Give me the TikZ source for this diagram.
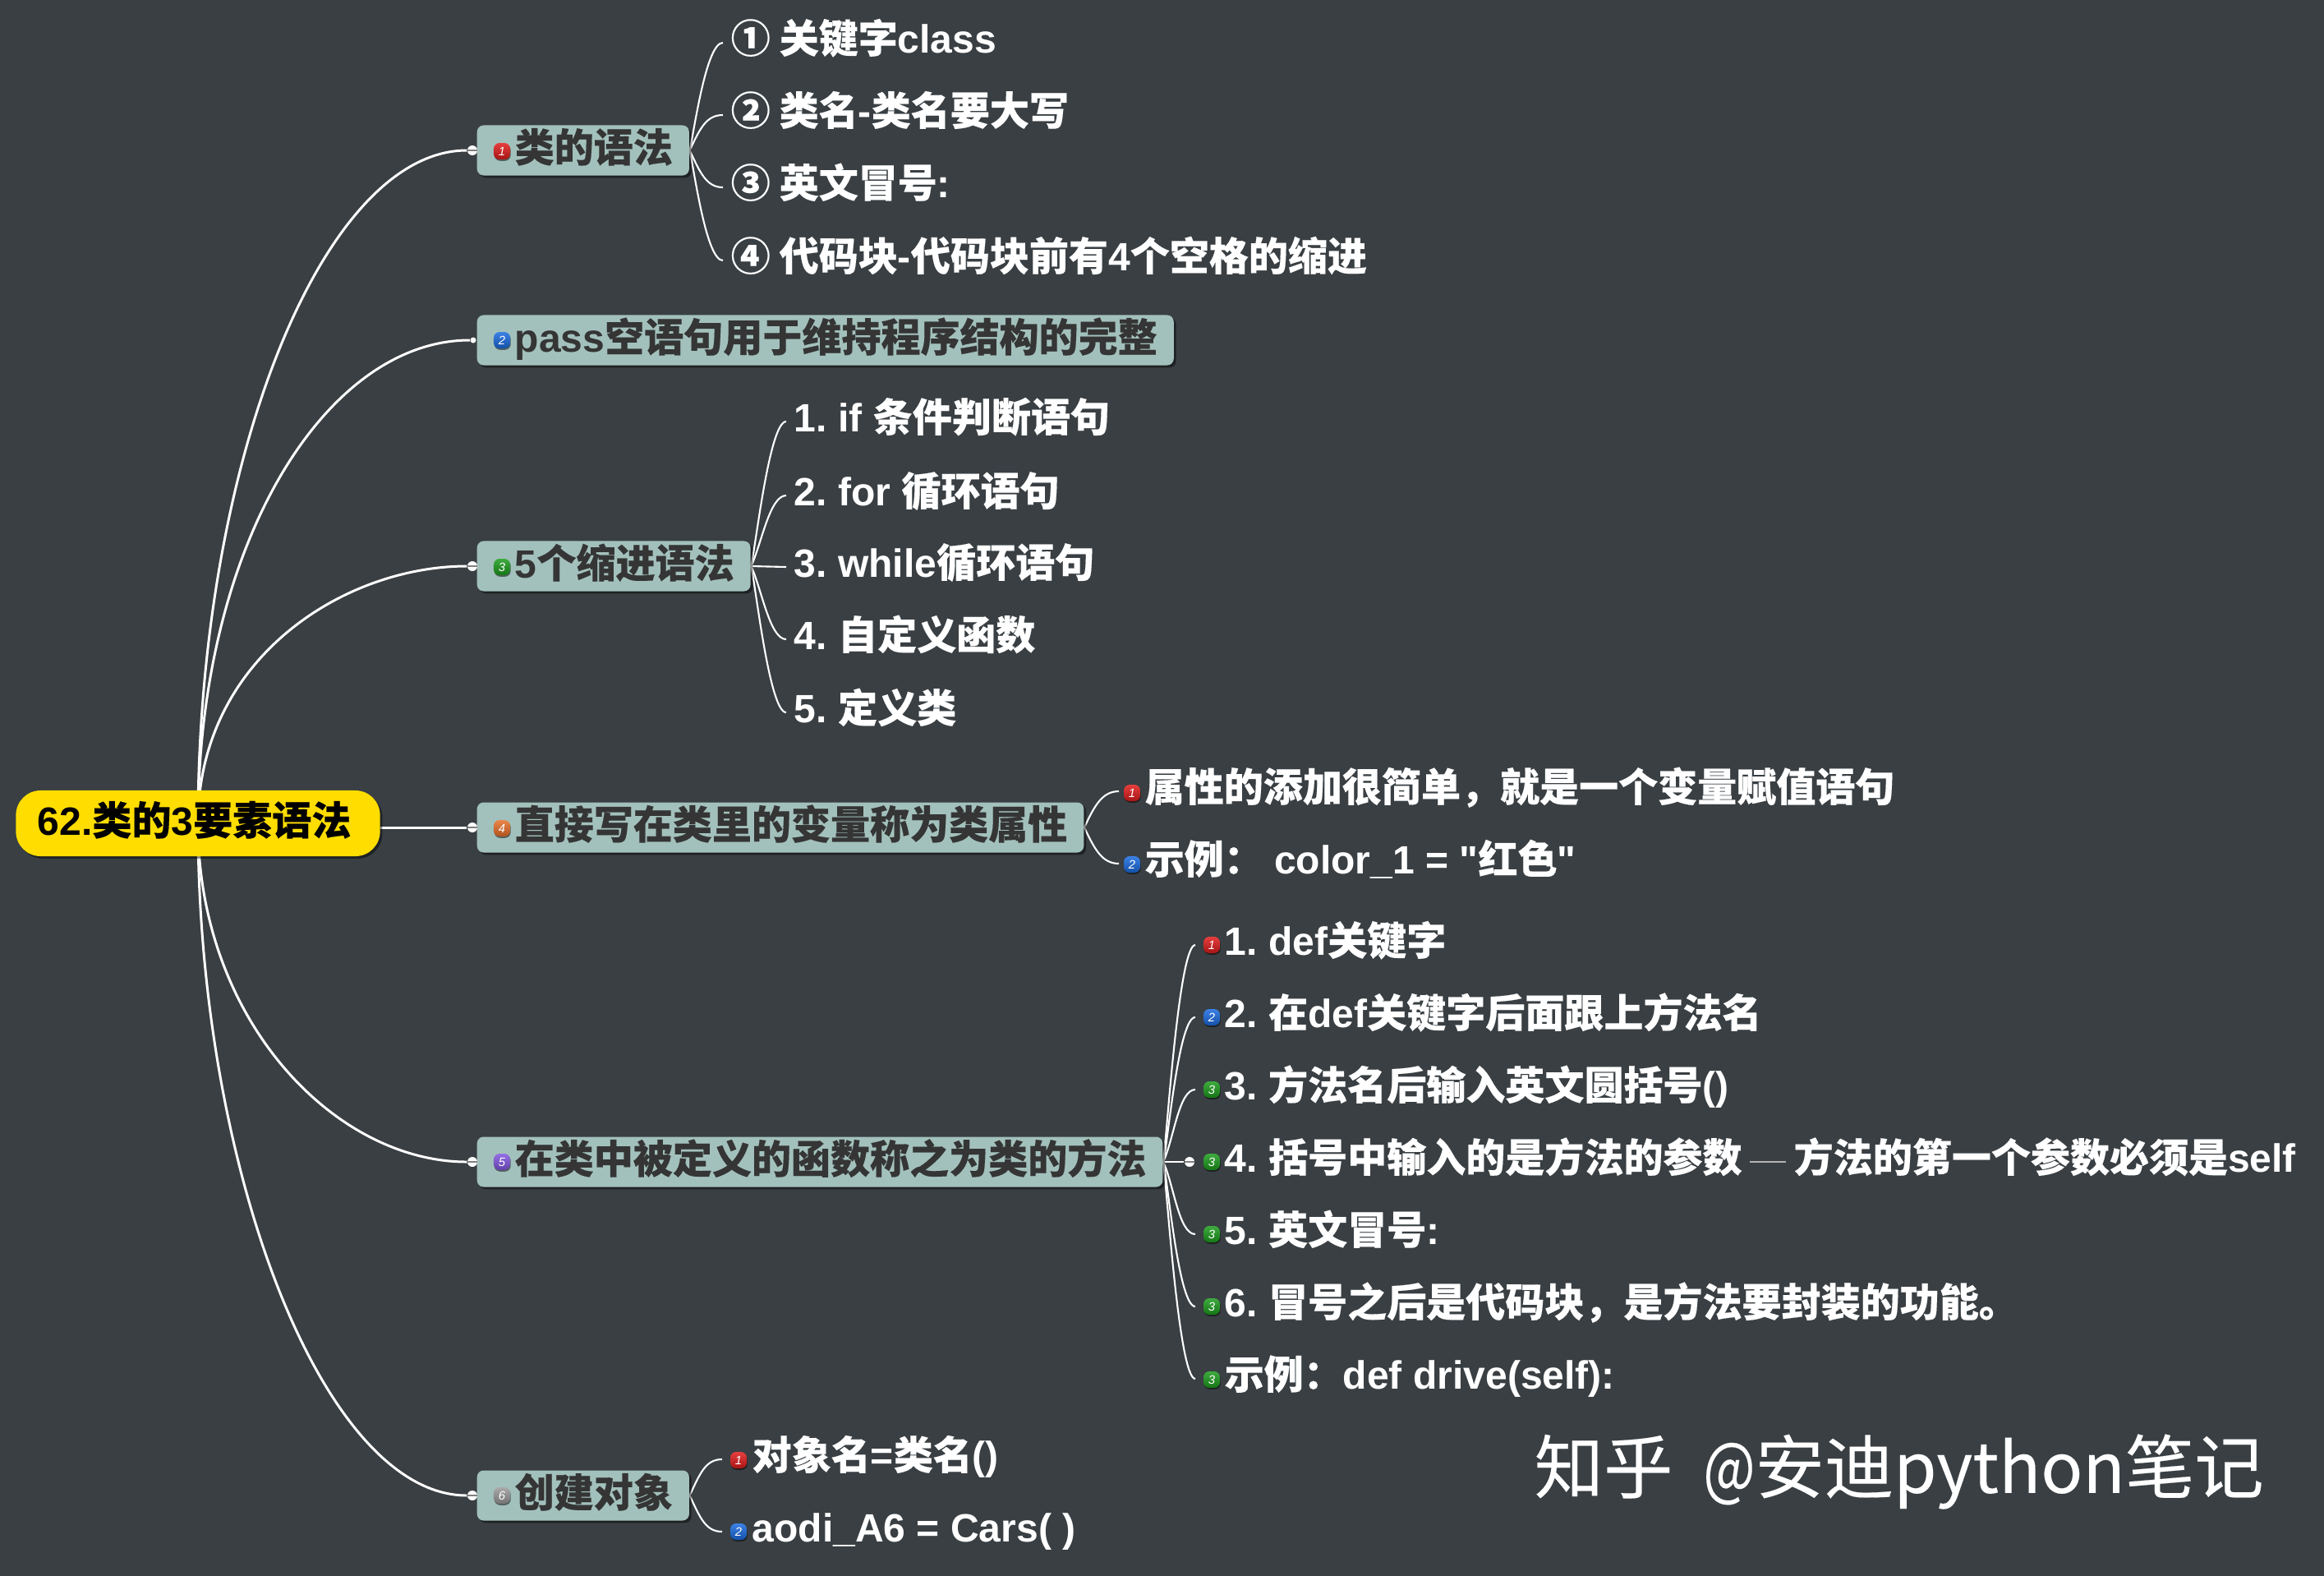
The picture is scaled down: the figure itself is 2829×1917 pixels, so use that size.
\documentclass[tikz,border=0pt]{standalone}
\usepackage{fontspec}
\newfontfamily\mapmain{Liberation Sans}
\newfontfamily\cjk[BoldFeatures={FakeBold=.25}]{Noto Sans CJK SC}
\newfontfamily\markfont[FakeBold=.2]{Noto Sans CJK SC}
\newcommand{\zh}[1]{{\cjk #1}}
\usetikzlibrary{backgrounds,shadows}
\frenchspacing

\definecolor{slate}{HTML}{393F43}
\definecolor{sage}{HTML}{A3C1BC}
\definecolor{inkdark}{HTML}{353535}
\definecolor{sun}{HTML}{FFDD00}
\definecolor{bred}{HTML}{E01C1C}
\definecolor{bblue}{HTML}{1A6BE0}
\definecolor{bgreen}{HTML}{1C9C1C}
\definecolor{borange}{HTML}{E8702A}
\definecolor{bpurple}{HTML}{8256E0}
\definecolor{bgray}{HTML}{9A9A9A}

\tikzset{
  mapfont/.style={font=\fontsize{13.66}{16}\selectfont\mapmain\bfseries,text height=11pt,text depth=3pt},
  softshadow/.style={drop shadow={shadow xshift=.8pt,shadow yshift=-.8pt,fill=black,opacity=.45}},
  centre/.style={mapfont,text=black,fill=sun,rounded corners=.3cm,minimum width=4.43cm,minimum height=.8cm,inner sep=0,softshadow,execute at end node={\hspace{.09cm}}},
  branch/.style={mapfont,text=inkdark,fill=sage,rounded corners=.08cm,anchor=west,minimum height=.61cm,inner ysep=0,inner xsep=.2cm,softshadow,execute at begin node={\hspace{.26cm}}},
  leaf/.style={mapfont,text height=10pt,text=white,anchor=west,inner xsep=.09cm,inner ysep=0},
  badged/.style={leaf,execute at begin node={\hspace{#1}}},
  badged/.default=.26cm,
  badge/.style={top color=#1!85!white,bottom color=#1!75!black,text=white,font=\fontsize{4.2}{5}\selectfont\mapmain\itshape,minimum width=.2cm,minimum height=.2cm,inner sep=0,rounded corners=.07cm,drop shadow={shadow xshift=.2pt,shadow yshift=-.5pt,fill=black,opacity=.5}},
  knob/.style={circle,fill=white,inner sep=0,minimum size=.12cm,path picture={\draw[gray,line width=.5pt] (path picture bounding box.west) -- (path picture bounding box.east);}},
  stud/.style={circle,fill=white,inner sep=0,minimum size=.07cm},
  arm/.style={white,line width=.85pt},
  twig/.style={white,line width=.6pt},
  curl/.style={in=180,in distance=2mm,out distance=3mm},
}

\begin{document}
\begin{tikzpicture}[x=.01cm,y=.01cm]
\useasboundingbox (0,0) rectangle (2829,-1917);

% Draw the centre and the six branches
\node[centre] (root) at (241,-1002) {62.\zh{类的}3\zh{要素语法}};
\node[branch] (syntax) at (580,-183) {\zh{类的语法}};
\node[branch] (pass) at (580,-414) {pass\zh{空语句用于维持程序结构的完整}};
\node[branch] (indent) at (580,-689) {5\zh{个缩进语法}};
\node[branch] (attr) at (580,-1007) {\zh{直接写在类里的变量称为类属性}};
\node[branch] (method) at (580,-1414) {\zh{在类中被定义的函数称之为类的方法}};
\node[branch] (object) at (580,-1820) {\zh{创建对象}};

% Draw the badges of the branches
\node[badge=bred] (nsyntax) at (611,-184) {1};
\node[badge=bblue] (npass) at (611,-414) {2};
\node[badge=bgreen] (nindent) at (611,-690) {3};
\node[badge=borange] (nattr) at (611,-1008) {4};
\node[badge=bpurple] (nmethod) at (611,-1414) {5};
\node[badge=bgray] (nobject) at (611,-1820) {6};

% Draw the knobs
\node[knob] (ksyntax) at (575,-183) {};
\node[stud] (kpass) at (576,-414) {};
\node[knob] (kindent) at (575,-689) {};
\node[knob] (kattr) at (575,-1007) {};
\node[knob] (kmethod) at (575,-1414) {};
\node[knob] (kobject) at (575,-1820) {};
\node[knob] (kfour) at (1448,-1414) {};

% Draw the leaves of the first branch
\node[leaf] (syn1) at (880,-52) {\zh{① 关键字}class};
\node[leaf] (syn2) at (880,-140) {\zh{② 类名}-\zh{类名要大写}};
\node[leaf] (syn3) at (880,-228) {\zh{③ 英文冒号}:};
\node[leaf] (syn4) at (880,-317) {\zh{④ 代码块}-\zh{代码块前有}4\zh{个空格的缩进}};

% Draw the leaves of the third branch
\node[leaf] (ind1) at (957,-513) {1. if \zh{条件判断语句}};
\node[leaf] (ind2) at (957,-603) {2. for \zh{循环语句}};
\node[leaf] (ind3) at (957,-690) {3. while\zh{循环语句}};
\node[leaf] (ind4) at (957,-778) {4. \zh{自定义函数}};
\node[leaf] (ind5) at (957,-867) {5. \zh{定义类}};

% Draw the leaves of the fourth branch
\node[badged=.22cm] (att1) at (1362,-963) {\zh{属性的添加很简单，就是一个变量赋值语句}};
\node[badged=.22cm] (att2) at (1362,-1051) {\zh{示例：} color\_1 = "\zh{红色}"};
\node[badge=bred] (natt1) at (1378,-965) {1};
\node[badge=bblue] (natt2) at (1378,-1052) {2};

% Draw the leaves of the fifth branch
\node[badged] (met1) at (1455,-1150) {1. def\zh{关键字}};
\node[badged] (met2) at (1455,-1238) {2. \zh{在}def\zh{关键字后面跟上方法名}};
\node[badged] (met3) at (1455,-1326) {3. \zh{方法名后输入英文圆括号}()};
\node[badged] (met4) at (1455,-1414) {4. \zh{括号中输入的是方法的参数}};
\node[leaf] (met4b) at (2174,-1414) {\zh{方法的第一个参数必须是}self};
\node[badged] (met5) at (1455,-1502) {5. \zh{英文冒号}:};
\node[badged] (met6) at (1455,-1590) {6. \zh{冒号之后是代码块，是方法要封装的功能。}};
\node[badged] (met7) at (1455,-1678) {\zh{示例：}def drive(self):};
\node[badge=bred] (nmet1) at (1475,-1150) {1};
\node[badge=bblue] (nmet2) at (1475,-1238) {2};
\node[badge=bgreen] (nmet3) at (1475,-1326) {3};
\node[badge=bgreen] (nmet4) at (1475,-1414) {3};
\node[badge=bgreen] (nmet5) at (1475,-1502) {3};
\node[badge=bgreen] (nmet6) at (1475,-1590) {3};
\node[badge=bgreen] (nmet7) at (1475,-1679) {3};

% Draw the leaves of the last branch
\node[badged=.27cm] (obj1) at (879,-1776) {\zh{对象名}=\zh{类名}()};
\node[badged=.27cm] (obj2) at (879,-1864) {aodi\_A6 = Cars( )};
\node[badge=bred] (nobj1) at (899,-1777) {1};
\node[badge=bblue] (nobj2) at (899,-1864) {2};

% Draw the mark in the corner
\node[text=white,anchor=west,inner sep=0,font=\fontsize{24}{28}\selectfont\markfont] (mark) at (1867,-1791) {知乎 \hspace{.18cm}\scalebox{.79}[1]{@}安迪python笔记};

\begin{scope}[on background layer]
\fill[slate] (-5,5) rectangle (2834,-1922);

% Draw the arms from the centre
\draw[arm] (root.center) to[out=90,in=180,out distance=4.4cm,in distance=1.75cm] (ksyntax);
\draw[arm] (root.center) to[out=90,in=180,out distance=3.4cm,in distance=1.75cm] (kpass);
\draw[arm] (root.center) to[out=90,in=180,out distance=2cm,in distance=1.5cm] (kindent);
\draw[arm] (root.east |- kattr) -- (kattr);
\draw[arm] (root.center) to[out=-90,in=180,out distance=2.4cm,in distance=1.6cm] (kmethod);
\draw[arm] (root.center) to[out=-90,in=180,out distance=4.2cm,in distance=1.75cm] (kobject);

% Draw the twigs of the first branch
\draw[twig] (syntax.east) to[out=78,curl] (syn1.west);
\draw[twig] (syntax.east) to[out=65,curl] (syn2.west);
\draw[twig] (syntax.east) to[out=-65,curl] (syn3.west);
\draw[twig] (syntax.east) to[out=-78,curl] (syn4.west);

% Draw the twigs of the third branch
\draw[twig] (indent.east) to[out=78,curl] (ind1.west);
\draw[twig] (indent.east) to[out=65,curl] (ind2.west);
\draw[twig] (indent.east) -- (ind3.west);
\draw[twig] (indent.east) to[out=-65,curl] (ind4.west);
\draw[twig] (indent.east) to[out=-78,curl] (ind5.west);

% Draw the twigs of the fourth branch
\draw[twig] (attr.east) to[out=65,curl] (att1.west);
\draw[twig] (attr.east) to[out=-65,curl] (att2.west);

% Draw the twigs of the fifth branch
\draw[twig] (method.east) to[out=82,curl] (met1.west);
\draw[twig] (method.east) to[out=78,curl] (met2.west);
\draw[twig] (method.east) to[out=65,curl] (met3.west);
\draw[twig] (method.east) -- (kfour);
\draw[twig] (method.east) to[out=-65,curl] (met5.west);
\draw[twig] (method.east) to[out=-78,curl] (met6.west);
\draw[twig] (method.east) to[out=-82,curl] (met7.west);
\draw[twig,white!70!black] (met4.east) -- (met4b.west);

% Draw the twigs of the last branch
\draw[twig] (object.east) to[out=65,curl] (obj1.west);
\draw[twig] (object.east) to[out=-65,curl] (obj2.west);
\end{scope}

\end{tikzpicture}
\end{document}
